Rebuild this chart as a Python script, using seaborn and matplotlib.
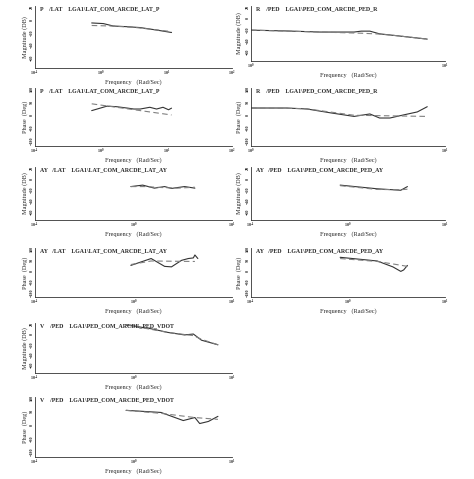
import numpy as np
import pandas as pd
import seaborn as sns
import matplotlib.pyplot as plt
from matplotlib.ticker import LogLocator, NullFormatter, MultipleLocator

# ---- data (freq in rad/s, magnitude dB, phase deg) ----
# P / LAT magnitude
p_mag_f = [0.73, 1.1, 1.55, 2.5, 4.0, 7.1, 12.0]
p_mag_meas = [-4.8, -5.8, -9.6, -10.7, -12.1, -16.0, -19.9]
p_mag_fit_f = [0.73, 1.4, 3.2, 12.0]
p_mag_fit = [-8.8, -9.6, -11.7, -18.4]

# P / LAT phase
p_ph_f = [0.73, 1.25, 1.75, 2.6, 3.2, 4.0, 5.6, 7.1, 8.9, 10.8, 12.0]
p_ph_meas = [29, 60, 56, 46, 40, 40, 52, 40, 52, 35, 46]
p_ph_fit_f = [0.73, 12.0]
p_ph_fit = [76, -1]

# R / PED magnitude
r_mag_f = [1.0, 1.53, 2.27, 3.4, 3.7, 4.1, 4.6, 5.6, 8.1]
r_mag_meas = [-21, -22.5, -24.4, -24.4, -22.8, -22.8, -27.6, -30.8, -37]
r_mag_fit_f = [1.0, 2.27, 3.7, 4.6, 5.6, 8.1]
r_mag_fit = [-21, -24.4, -26.5, -28, -30.8, -37]

# R / PED phase
r_ph_f = [1.0, 1.53, 1.95, 2.56, 3.4, 4.1, 4.6, 5.2, 6.1, 7.2, 8.1]
r_ph_meas = [47, 47, 40, 14, -11, 6, -22, -22, -1, 20, 56]
r_ph_fit_f = [1.0, 1.9, 3.4, 8.1]
r_ph_fit = [47, 43, -3, -11]

# AY / LAT magnitude
ayl_mag_f = [0.94, 1.24, 1.63, 2.07, 2.43, 3.3, 4.2]
ayl_mag_meas = [-14.2, -11.5, -17.1, -14.2, -17.6, -14.2, -17.1]
ayl_mag_fit_f = [0.94, 1.3, 1.9, 2.8, 4.2]
ayl_mag_fit = [-14.2, -14.2, -15.9, -17.1, -15.4]

# AY / PED magnitude
ayp_mag_f = [0.83, 2.0, 3.5, 4.1]
ayp_mag_meas = [-11.5, -18.3, -21.0, -14.2]
ayp_mag_fit_f = [0.83, 2.0, 3.5, 4.1]
ayp_mag_fit = [-12.5, -19.5, -20.0, -19.0]

# AY / LAT phase
ayl_ph_f = [0.94, 1.51, 2.07, 2.43, 3.07, 3.6, 4.05, 4.2, 4.5]
ayl_ph_meas = [43, 99, 35, 31, 84, 99, 104, 128, 99]
ayl_ph_fit_f = [0.94, 1.51, 4.2]
ayl_ph_fit = [50, 79, 75]

# AY / PED phase
ayp_ph_f = [0.83, 2.0, 2.9, 3.5, 3.75, 4.1]
ayp_ph_meas = [109, 79, 31, -6, 6, 43]
ayp_ph_fit_f = [0.83, 2.0, 2.9, 4.1]
ayp_ph_fit = [99, 75, 55, 35]

# V / PED magnitude
v_mag_f = [0.84, 1.51, 2.24, 3.3, 4.05, 4.9, 7.2]
v_mag_meas = [18.4, 10.7, 3.5, -1.4, 0.4, -11.7, -20.7]
v_mag_fit_f = [0.84, 2.24, 4.05, 4.9, 7.2]
v_mag_fit = [18.4, 3.5, -2.7, -9.9, -20.7]

# V / PED phase
v_ph_f = [0.84, 1.9, 3.2, 4.2, 4.7, 5.76, 7.2]
v_ph_meas = [96, 82, 28, 48, 8, 22, 56]
v_ph_fit_f = [0.84, 1.9, 4.2, 7.2]
v_ph_fit = [96, 76, 48, 36]

titles = {
    "p": "P    /LAT    LGA1\\LAT_COM_ARCDE_LAT_P",
    "r": "R    /PED    LGA1\\PED_COM_ARCDE_PED_R",
    "ayl": "AY   /LAT    LGA1\\LAT_COM_ARCDE_LAT_AY",
    "ayp": "AY   /PED    LGA1\\PED_COM_ARCDE_PED_AY",
    "v": "V    /PED    LGA1\\PED_COM_ARCDE_PED_VDOT",
}

mag_ticks = [20, 0, -20, -40, -60]
ph_ticks = [180, 90, 0, -90, -180]

sns.set_style("white")
plt.rcParams["font.family"] = ["Liberation Serif", "DejaVu Serif"]
plt.rcParams["font.weight"] = "bold"
plt.rcParams["mathtext.fontset"] = "custom"
plt.rcParams["mathtext.rm"] = "Liberation Serif"
plt.rcParams["mathtext.it"] = "Liberation Serif:italic"
plt.rcParams["mathtext.bf"] = "Liberation Serif:bold"

W, H = 474, 479
fig = plt.figure(figsize=(W / 100, H / 100), dpi=100)


def make_ax(x0, x1, top, bottom, ylab_off=7):
    ax = fig.add_axes([x0 / W, 1 - bottom / H, (x1 - x0) / W, (bottom - top) / H])
    ax._px = (x1 - x0, bottom - top, ylab_off)
    return ax


def panel(ax, f, meas, fit_f, fit, xlim, kind, title):
    wpx, hpx, yoff = ax._px
    d1 = pd.DataFrame({"f": f, "y": meas})
    d2 = pd.DataFrame({"f": fit_f, "y": fit})
    sns.lineplot(data=d1, x="f", y="y", ax=ax, color="#333333", lw=0.8)
    sns.lineplot(data=d2, x="f", y="y", ax=ax, color="#808080", lw=0.8, linestyle=(0, (5, 3)))
    ax.set_xscale("log")
    ax.set_xlim(*xlim)
    decs = range(int(round(np.log10(xlim[0]))), int(round(np.log10(xlim[1]))) + 1)
    ax.set_xticks([10.0 ** k for k in decs])
    ax.set_xticklabels([r"$10^{%d}$" % k for k in decs])
    ax.xaxis.set_minor_locator(LogLocator(subs=np.arange(2, 10)))
    ax.xaxis.set_minor_formatter(NullFormatter())
    if kind == "mag":
        ax.set_ylim(-76, 22)
        ax.set_yticks(mag_ticks)
        ax.set_ylabel("Magnitude (DB)", fontsize=4.5)
    else:
        ax.set_ylim(-215, 185)
        ax.set_yticks(ph_ticks)
        ax.yaxis.set_minor_locator(MultipleLocator(45))
        ax.set_ylabel("Phase  (Deg)", fontsize=4.5)
    ax.set_xlabel("Frequency   (Rad/Sec)", fontsize=4.5)
    ax.xaxis.set_label_coords(0.5, -11.0 / hpx)
    ax.yaxis.set_label_coords(-yoff / wpx, 0.5)
    ax.tick_params(axis="both", which="both", direction="in", labelsize=3.0,
                   length=2, width=0.5, pad=0.8, color="#333333")
    ax.tick_params(axis="both", which="minor", length=1.2)
    for lab in ax.get_yticklabels():
        lab.set_rotation(90)
        lab.set_va("center")
    for s in ["top", "right"]:
        ax.spines[s].set_visible(False)
    for s in ["left", "bottom"]:
        ax.spines[s].set_linewidth(0.6)
        ax.spines[s].set_color("#333333")
    ax.text(0.025, 1.0, title, transform=ax.transAxes, fontsize=4.2,
            fontweight="bold", va="top", ha="left")


LX = (35, 232)
RX = (251, 445)

panel(make_ax(*LX, 6, 68), p_mag_f, p_mag_meas, p_mag_fit_f, p_mag_fit, (0.1, 100), "mag", titles["p"])
panel(make_ax(*RX, 6, 61, 9), r_mag_f, r_mag_meas, r_mag_fit_f, r_mag_fit, (1, 10), "mag", titles["r"])
panel(make_ax(*LX, 88, 146), p_ph_f, p_ph_meas, p_ph_fit_f, p_ph_fit, (0.1, 100), "ph", titles["p"])
panel(make_ax(*RX, 88, 146, 9), r_ph_f, r_ph_meas, r_ph_fit_f, r_ph_fit, (1, 10), "ph", titles["r"])
panel(make_ax(*LX, 167, 220), ayl_mag_f, ayl_mag_meas, ayl_mag_fit_f, ayl_mag_fit, (0.1, 10), "mag", titles["ayl"])
panel(make_ax(*RX, 167, 220, 9), ayp_mag_f, ayp_mag_meas, ayp_mag_fit_f, ayp_mag_fit, (0.1, 10), "mag", titles["ayp"])
panel(make_ax(*LX, 248, 297), ayl_ph_f, ayl_ph_meas, ayl_ph_fit_f, ayl_ph_fit, (0.1, 10), "ph", titles["ayl"])
panel(make_ax(*RX, 248, 297, 9), ayp_ph_f, ayp_ph_meas, ayp_ph_fit_f, ayp_ph_fit, (0.1, 10), "ph", titles["ayp"])
panel(make_ax(*LX, 323, 373), v_mag_f, v_mag_meas, v_mag_fit_f, v_mag_fit, (0.1, 10), "mag", titles["v"])
panel(make_ax(*LX, 397, 457), v_ph_f, v_ph_meas, v_ph_fit_f, v_ph_fit, (0.1, 10), "ph", titles["v"])

fig.savefig("out.png", dpi=100, facecolor="white")
